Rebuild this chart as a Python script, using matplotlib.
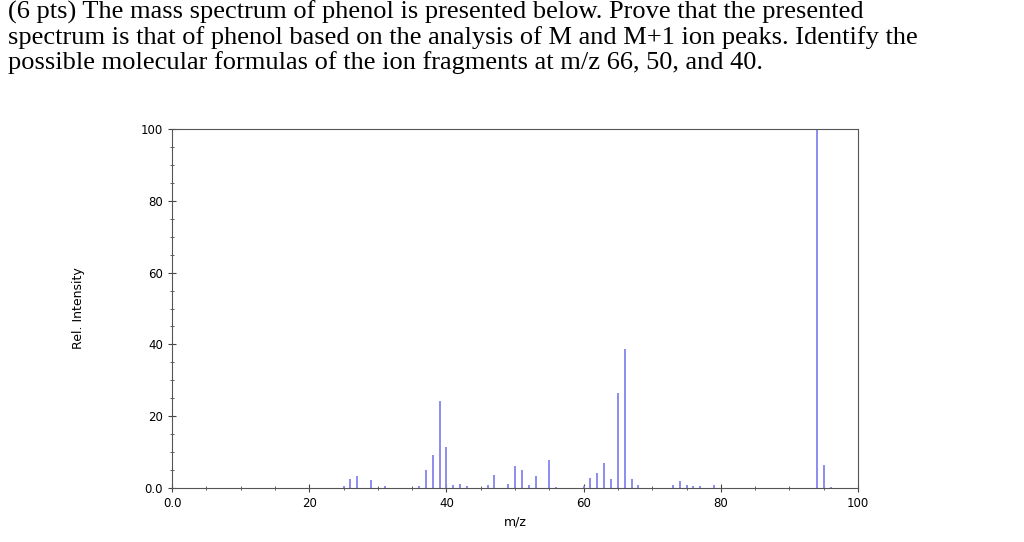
import matplotlib
matplotlib.use("Agg")
import matplotlib.pyplot as plt
from matplotlib.ticker import MultipleLocator, FixedFormatter, FixedLocator

# peaks (m/z, relative intensity)
mz = [25, 26, 27, 29, 31, 36, 37, 38, 39, 40, 41, 42, 43,
      46, 47, 49, 50, 51, 52, 53, 55, 56,
      60, 61, 62, 63, 64, 65, 66, 67, 68,
      73, 74, 75, 76, 77, 79, 94, 95, 96]
intensity = [0.5, 2.6, 3.4, 2.3, 0.5, 0.5, 5.1, 9.1, 24.3, 11.4, 0.9, 1.0, 0.5,
             0.8, 3.5, 1.2, 6.1, 5.1, 0.8, 3.3, 7.9, 0.2,
             0.6, 2.7, 4.2, 6.9, 2.5, 26.6, 38.6, 2.5, 0.8,
             0.8, 1.9, 0.8, 0.6, 0.6, 0.8, 100, 6.5, 0.4]

question = ("(6 pts) The mass spectrum of phenol is presented below. Prove that the presented\n"
            "spectrum is that of phenol based on the analysis of M and M+1 ion peaks. Identify the\n"
            "possible molecular formulas of the ion fragments at m/z 66, 50, and 40.")

fig = plt.figure(figsize=(10.24, 5.42), dpi=100)
fig.text(0.008, 0.998, question, ha="left", va="top", family="Liberation Serif",
         fontsize=19, linespacing=1.1)

ax = fig.add_axes([172/1024, 1-488/542, 686/1024, 359/542])
ax.vlines(mz, 0, intensity, color="#8c8cf0", lw=1.4)
ax.set_xlim(0, 100)
ax.set_ylim(0, 100)

ticks = [0, 20, 40, 60, 80, 100]
labels = ["0.0", "20", "40", "60", "80", "100"]
ax.xaxis.set_major_locator(FixedLocator(ticks))
ax.xaxis.set_major_formatter(FixedFormatter(labels))
ax.xaxis.set_minor_locator(MultipleLocator(5))
ax.yaxis.set_major_locator(FixedLocator(ticks))
ax.yaxis.set_major_formatter(FixedFormatter(labels))
ax.yaxis.set_minor_locator(MultipleLocator(5))
ax.tick_params(which="both", direction="inout", labelsize=8.5, color="#444444")
ax.tick_params(which="major", length=6)
ax.tick_params(which="minor", length=3)
for s in ax.spines.values():
    s.set_color("#555555")
    s.set_linewidth(0.8)

ax.set_xlabel("m/z", fontsize=9)
ax.set_ylabel("Rel. Intensity", fontsize=9, labelpad=40)

plt.savefig("out.png", dpi=100)
